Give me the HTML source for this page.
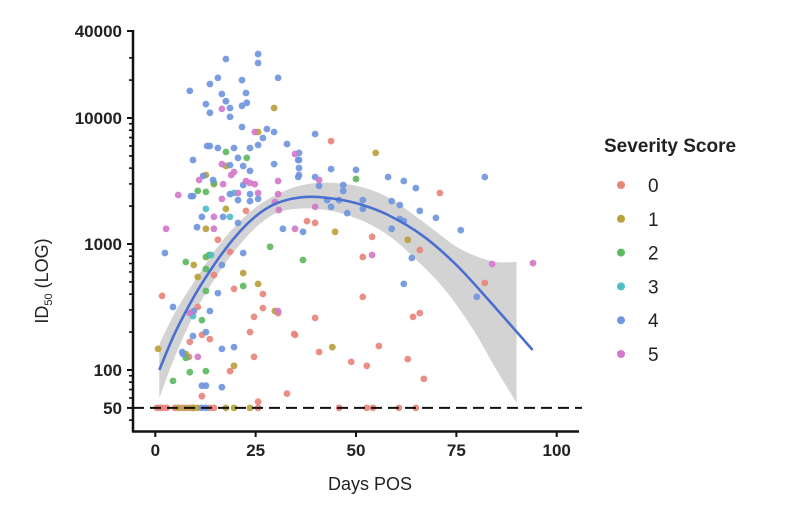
<!DOCTYPE html>
<html><head><meta charset="utf-8"><style>
html,body{margin:0;padding:0;background:#fff;}
svg{display:block;font-family:"Liberation Sans",Arial,sans-serif;}
</style></head><body>
<svg id="chart" width="794" height="518" viewBox="0 0 794 518">
<g id="ribbon-g"></g>
<g id="pts"></g>
<g id="fit-g"></g>
<g id="axes"></g>
<text x="48" y="281" transform="rotate(-90 48 281)" text-anchor="middle" font-size="18" fill="#222">ID<tspan font-size="11" dy="4">50</tspan><tspan dy="-4"> (LOG)</tspan></text>
<text x="370" y="490" text-anchor="middle" font-size="18" fill="#222">Days POS</text>
<g id="legend">
<text x="604" y="152" font-size="19" font-weight="bold" fill="#222">Severity Score</text>
</g>
</svg>
<script>
const categories = ["0","1","2","3","4","5"];
const colors = ["#e8857c","#b8a13c","#5db95f","#4fbfc6","#6f96de","#d27ac9"];
const yTicks = [50,100,1000,10000];
const xTicks = [0,25,50,75,100];
// points: [day, ID50]
const blueVals = [[17.6,29400],[25.6,32200],[25.6,27300],[15.6,20800],[13.6,18600],[21.6,20000],[30.6,20800],[8.6,16400],[16.6,15500],[22.6,15800],[17.6,13600],[12.6,12900],[21.6,12500],[22.8,13200],[18.6,12000],[13.6,11000],[18.6,10200],[21.6,8490],[27.8,8180],[29.6,7740],[26.8,6940],[32.8,6220],[12.9,6000],[13.6,6000],[15.6,5780],[19.6,5780],[23.6,5780],[25.6,6110],[20.6,4820],[9.4,4640],[18.6,4230],[21.9,4160],[23.6,3800],[29.6,4310],[11.9,3470],[14.4,3220],[21.9,2940],[8.9,2400],[9.4,2400],[18.6,2490],[23.6,2490],[25.6,2280],[23.6,2190],[20.6,2230],[35.6,4640],[35.6,3400],[11.6,1640],[16.9,1640],[20.6,1470],[10.4,1360],[31.8,1320],[2.4,849],[16.6,681],[21.9,849],[15.6,408],[4.4,316],[9.6,294],[13.6,294],[12.6,200],[9.4,186],[16.6,147],[19.6,152],[6.7,139],[6.9,134],[11.6,75],[12.6,75],[16.6,73],[11.6,50],[12.6,50],[39.8,7460],[35.8,5280],[35.8,4640],[35.8,4010],[35.8,3530],[43.8,3940],[50.0,3870],[39.8,3400],[58.0,3400],[61.9,3160],[64.9,2780],[82.1,3400],[40.8,2890],[46.8,2940],[46.8,2640],[42.8,2230],[45.8,2230],[43.8,1970],[47.8,1760],[51.7,2230],[51.7,1900],[58.9,2190],[60.9,2040],[60.9,1580],[61.9,1520],[65.9,1830],[69.9,1610],[76.1,1290],[36.8,1250],[58.9,1320],[63.9,774],[61.9,482],[80.1,380]];
const redVals = [[43.8,6560],[70.9,2540],[22.6,1830],[37.8,1520],[39.8,1470],[54.0,1140],[65.9,896],[51.7,789],[82.1,490],[51.7,380],[15.6,1080],[18.6,865],[14.6,568],[19.6,440],[26.8,401],[1.7,387],[10.6,316],[26.8,310],[30.6,283],[24.6,264],[11.6,190],[13.6,176],[23.6,200],[34.6,193],[8.6,167],[8.4,127],[24.6,127],[18.6,98],[11.6,62],[32.8,65],[25.6,56],[64.2,264],[65.9,283],[39.8,259],[34.8,190],[40.8,139],[55.7,155],[48.8,116],[52.7,108],[62.9,122],[66.9,85],[0.4,50],[1.2,50],[1.9,50],[2.9,50],[4.9,50],[6.7,50],[8.6,50],[9.6,50],[13.6,50],[14.6,50],[25.6,50],[45.8,50],[52.7,50],[54.2,50],[60.7,50],[64.9,50]];
const oliveVals = [[29.6,12000],[17.6,4160],[12.6,3530],[14.6,2990],[17.6,1900],[12.6,1320],[25.6,7740],[54.9,5280],[44.8,1250],[62.9,1080],[9.6,681],[10.6,547],[21.9,589],[25.6,482],[29.8,294],[0.7,147],[7.6,134],[19.6,108],[44.1,152],[5.7,50],[9.4,50],[17.6,50],[19.6,50],[23.6,50],[10.6,50],[7.6,50]];
const greenVals = [[17.6,5370],[22.8,4820],[10.6,2640],[12.6,2590],[14.6,3050],[50.0,3280],[36.8,746],[7.6,720],[12.6,789],[13.4,818],[12.6,633],[21.9,464],[12.6,424],[11.6,249],[7.6,125],[4.4,82],[8.6,96],[12.6,98],[28.6,950]];
const cyanVals = [[19.6,2540],[12.6,1900],[18.6,1640],[9.4,268],[13.9,818]];
const pinkVals = [[16.6,11800],[24.8,7740],[34.8,5180],[16.6,4310],[18.9,3530],[19.6,3730],[10.9,3220],[16.9,2990],[22.6,3160],[23.6,3050],[24.8,2990],[5.7,2450],[20.6,2540],[25.6,2540],[16.6,2280],[30.6,3160],[30.6,2490],[29.8,2150],[30.8,1860],[14.6,1640],[2.7,1320],[14.6,1320],[34.8,1320],[40.8,3220],[39.8,1970],[54.0,818],[83.9,694],[94.1,706],[8.6,283],[30.6,294],[10.6,127]];
const fitDays = [1,5,10,15,20,25,30,36,42,50,58,67,75,83,94];
const fitVals = [100,200,400,710,1150,1660,2090,2340,2340,2110,1700,1140,681,360,144];
const bandDays = [1,5,10,15,20,25,30,35,40,45,50,55,60,65,70,75,80,85,90];
const bandUpper = [160,290,520,900,1400,1950,2450,2850,3050,3050,2900,2600,2150,1650,1250,950,800,720,720];
const bandLower = [60,130,290,540,900,1350,1750,1900,1900,1800,1600,1350,1050,750,520,330,190,100,55];

const NS="http://www.w3.org/2000/svg";
const X0=155.3, XS=4.014;
function xs(d){return X0+d*XS;}
function ys(v){return 118-(Math.log10(v)-4)*126;}
function mk(tag,attrs,parent){const e=document.createElementNS(NS,tag);for(const k in attrs)e.setAttribute(k,attrs[k]);parent.appendChild(e);return e;}
function smooth(pts,move){
  let d=(move?"M":"L")+pts[0][0].toFixed(1)+","+pts[0][1].toFixed(1);
  for(let i=0;i<pts.length-1;i++){
    const p0=pts[Math.max(0,i-1)],p1=pts[i],p2=pts[i+1],p3=pts[Math.min(pts.length-1,i+2)];
    const c1=[p1[0]+(p2[0]-p0[0])/6,p1[1]+(p2[1]-p0[1])/6];
    const c2=[p2[0]-(p3[0]-p1[0])/6,p2[1]-(p3[1]-p1[1])/6];
    d+="C"+c1[0].toFixed(1)+","+c1[1].toFixed(1)+" "+c2[0].toFixed(1)+","+c2[1].toFixed(1)+" "+p2[0].toFixed(1)+","+p2[1].toFixed(1);
  }
  return d;
}

// band
const rg=document.getElementById('ribbon-g');
const up=bandDays.map((d,i)=>[xs(d),ys(bandUpper[i])]);
const lo=bandDays.map((d,i)=>[xs(d),ys(bandLower[i])]).reverse();
const band=mk('path',{d:smooth(up,true)+smooth(lo,false)+"Z",fill:"#d3d3d3"},rg);



// points
const pg=document.getElementById('pts');
const series=[redVals,oliveVals,greenVals,cyanVals,blueVals,pinkVals];
series.forEach((arr,s)=>{arr.forEach(p=>{
  const c=mk('circle',{cx:xs(p[0]).toFixed(1),cy:ys(p[1]).toFixed(1),r:3.4,fill:colors[s],'fill-opacity':0.92},pg);
  
  
});});

// dashed line at 50
const axg=document.getElementById('axes');
const dl=mk('line',{x1:133,x2:582,y1:ys(50),y2:ys(50),stroke:"#111","stroke-width":2,"stroke-dasharray":"11 6"},axg);



// fit line
const fg=document.getElementById('fit-g');
const fp=fitDays.map((d,i)=>[xs(d),ys(fitVals[i])]);
const fl=mk('path',{d:smooth(fp,true),fill:"none",stroke:"#4a6fd0","stroke-width":2.6,"stroke-linejoin":"round"},fg);



// axes
const ya=mk('line',{x1:133,x2:133,y1:30,y2:432,stroke:"#111","stroke-width":2.5},axg);


const xa=mk('line',{x1:132,x2:579,y1:431.5,y2:431.5,stroke:"#111","stroke-width":2.5},axg);


[40,60,70,80,90,200,300,400,500,600,700,800,900,2000,3000,4000,5000,6000,7000,8000,9000,20000,30000].forEach(v=>{
  const t=mk('line',{x1:129,x2:133,y1:ys(v),y2:ys(v),stroke:"#111","stroke-width":1.6},axg);
  
  
});
yTicks.forEach(v=>{
  const t=mk('line',{x1:127,x2:133,y1:ys(v),y2:ys(v),stroke:"#111","stroke-width":2},axg);
  
  
  const l=mk('text',{x:122,y:ys(v)+6,"text-anchor":"end","font-size":17,"font-weight":"bold",fill:"#222"},axg);
  l.textContent=String(v);
  
  
});
const tt=mk('line',{x1:127,x2:133,y1:31,y2:31,stroke:"#111","stroke-width":2},axg);


const tl=mk('text',{x:122,y:37,"text-anchor":"end","font-size":17,"font-weight":"bold",fill:"#222"},axg);
tl.textContent="40000";


xTicks.forEach(v=>{
  const t=mk('line',{x1:xs(v),x2:xs(v),y1:431,y2:437,stroke:"#111","stroke-width":2},axg);
  
  
  const l=mk('text',{x:xs(v),y:456,"text-anchor":"middle","font-size":17,"font-weight":"bold",fill:"#222"},axg);
  l.textContent=String(v);
  
  
});

// legend
const lg=document.getElementById('legend');
categories.forEach((c,i)=>{
  const y=185+i*33.8;
  const dot=mk('circle',{cx:621,cy:y,r:4,fill:colors[i]},lg);
  
  
  const t=mk('text',{x:648,y:y+7,"font-size":19,fill:"#222"},lg);
  t.textContent=c;
  
  
});
</script>
</body></html>
